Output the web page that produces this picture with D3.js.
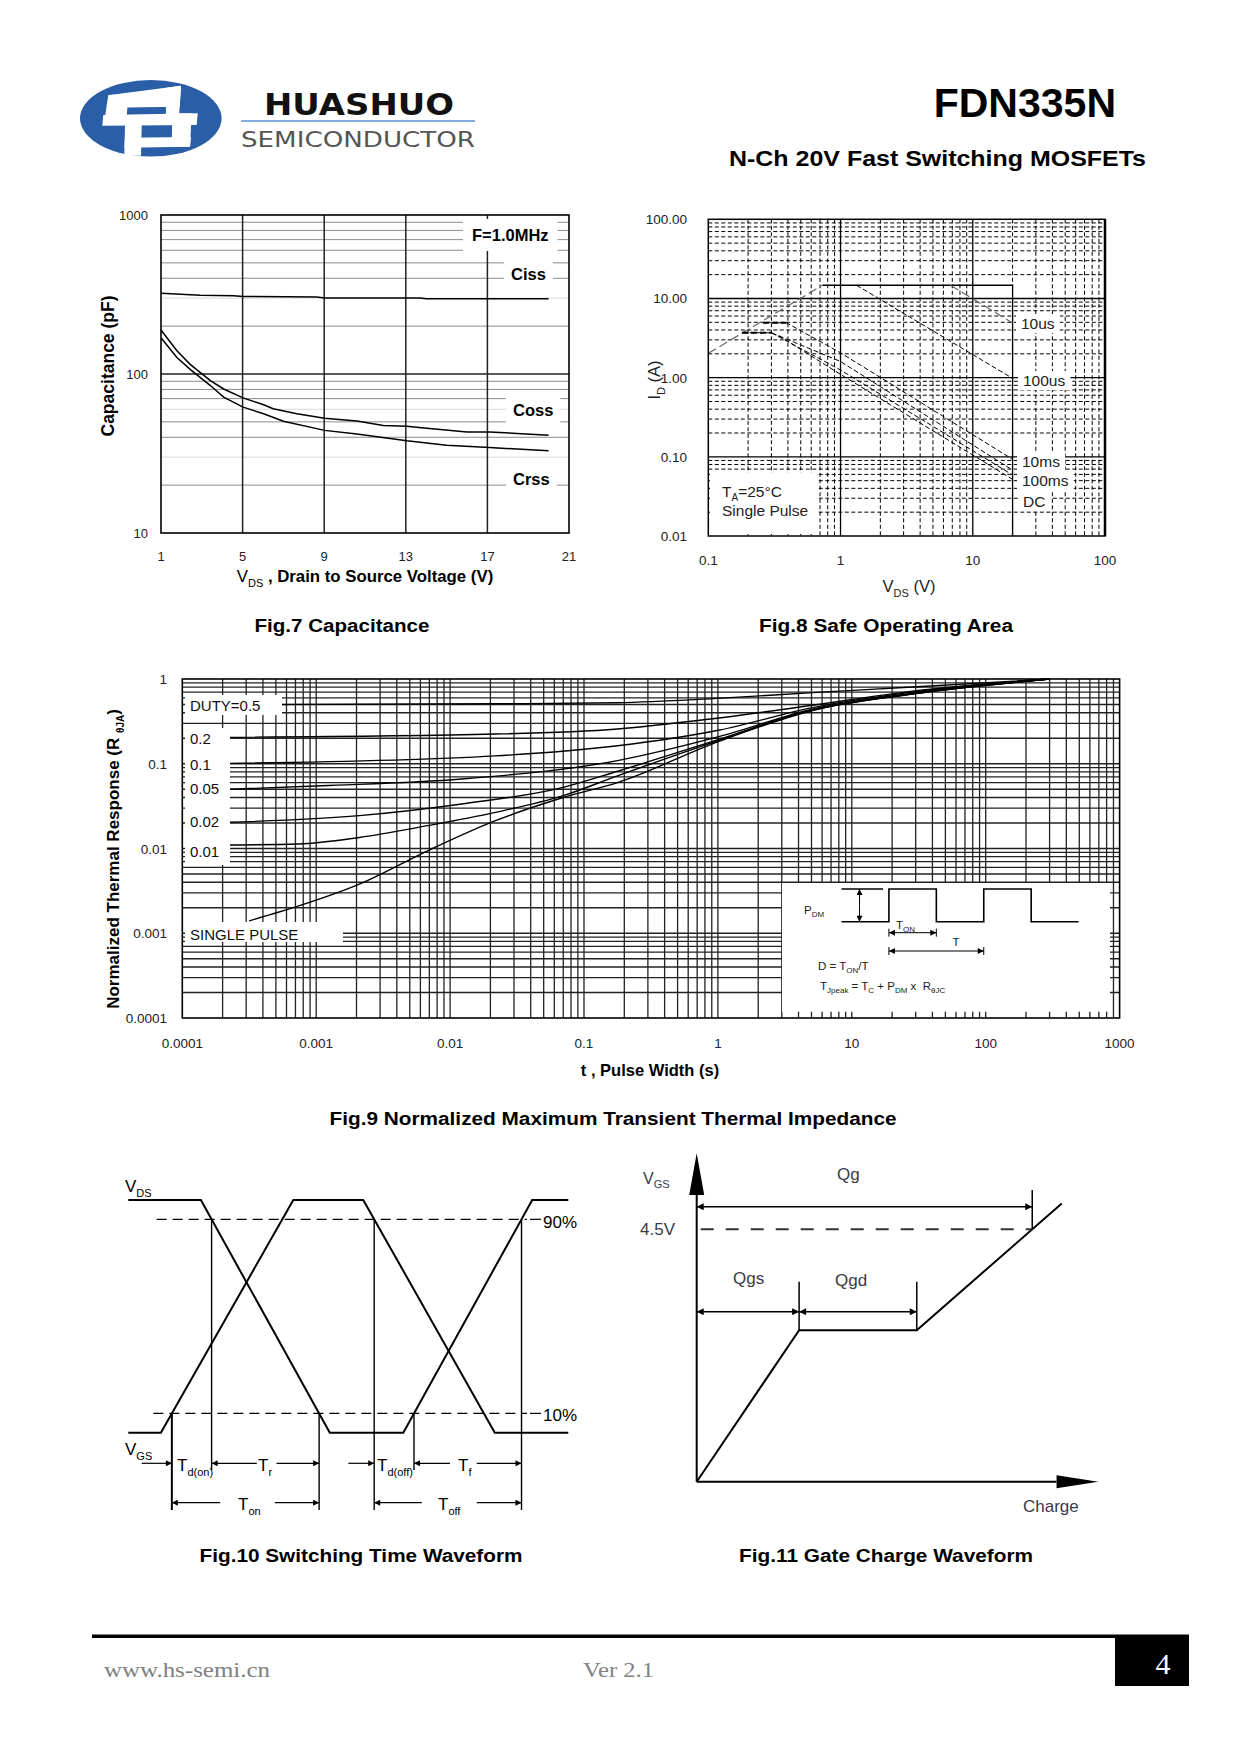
<!DOCTYPE html>
<html><head><meta charset="utf-8">
<script src="https://cdn.jsdelivr.net/npm/d3@7"></script>
<style>body{margin:0;background:#fff}</style>
</head><body>
<script>
// ================= DATA =================
// Fig.7 Capacitance
const cissV=[1,2.93,4.56,5.02,8.64,9.02,13.7,14,20];
const cissC=[322,313,310,307,305,301,301,297,297];
const cossV=[1,1.78,2.43,3.42,4.07,5.02,6.03,6.5,7.66,9.02,10.6,11.9,13.05,13.9,16,17.1,20];
const cossC=[189,140,115,90.9,80.5,70.8,64,60.4,56.2,52.6,50.6,47.5,46.9,45.8,43.2,43.2,41.2];
const crssV=[1,1.78,2.43,3.42,4.07,5.02,6.03,7,9.02,10.6,13.05,15,17.1,20];
const crssC=[169,127,107,84.6,71.5,61.9,56.2,50.4,44.2,42,38,35.6,34.5,32.9];
const capXTicks=[1,5,9,13,17,21];
const capYTicks=[10,100,1000];
const capLightGrid=[30,60,300];
const capLabels=["Ciss","Coss","Crss"];

// Fig.8 SOA
const soaXTicks=[0.1,1,10,100], soaXLabels=["0.1","1","10","100"];
const soaYTicks=[0.01,0.1,1,10,100], soaYLabels=["0.01","0.10","1.00","10.00","100.00"];
const rdsV=[0.1,0.73], rdsI=[2.03,14.7];
const limV=[0.73,20,20], limI=[14.7,14.7,0.01];
const us10V=[6.8,20], us10I=[14.7,4.9];
const us100V=[1.32,20], us100I=[14.7,0.98];
const soaAV=[0.26,0.39,1,20], soaAI=[4.93,4.93,2.06,0.093];
const soaBV=[0.18,0.3,1,20], soaBI=[3.69,3.69,1.6,0.068];
const soaCV=[0.3,1,20], soaCI=[3.69,1.25,0.059];
const soaDV=[0.34,1,20], soaDI=[3.4,1.1,0.052];
const soaLabels=["10us","100us","10ms","100ms","DC"];

// Fig.9 Transient thermal impedance
const thXTicks=[1e-4,1e-3,0.01,0.1,1,10,100,1000], thXLabels=["0.0001","0.001","0.01","0.1","1","10","100","1000"];
const thYTicks=[1e-4,1e-3,0.01,0.1,1], thYLabels=["0.0001","0.001","0.01","0.1","1"];
const d50T=[2.27e-4,0.0218,0.178,0.92,5.1,28.5,299], d50R=[0.497,0.51,0.525,0.586,0.69,0.805,1.0];
const d20T=[2.27e-4,0.0219,0.178,0.92,5.1,28.5,299], d20R=[0.205,0.224,0.257,0.34,0.49,0.72,1.0];
const d10T=[2.27e-4,0.0218,0.178,1.03,5.1,28.5,299], d10R=[0.101,0.124,0.163,0.25,0.46,0.70,1.0];
const d05T=[2.27e-4,1.1e-3,0.0122,0.178,1.03,5.1,28.5,299], d05R=[0.050,0.055,0.066,0.109,0.21,0.44,0.68,1.0];
const d02T=[2.27e-4,2.1e-3,0.0122,0.07,0.178,1.03,5.1,28.5,299], d02R=[0.0204,0.0244,0.0335,0.0527,0.0815,0.195,0.435,0.67,1.0];
const d01T=[2.27e-4,7.4e-4,2.1e-3,6.8e-3,0.0218,0.07,0.178,1.03,5.1,28.5,299], d01R=[0.011,0.0113,0.0135,0.0186,0.0267,0.042,0.072,0.19,0.43,0.67,1.0];
const spT=[3.15e-4,7.4e-4,2.1e-3,6.8e-3,0.0218,0.07,0.178,1.03,5.1,28.5,299], spR=[0.0014,0.0021,0.0038,0.0094,0.0213,0.040,0.060,0.185,0.425,0.665,1.0];
const dutyLabels=["DUTY=0.5","0.2","0.1","0.05","0.02","0.01","SINGLE PULSE"];
const pulseX=[0,20,20,40,40,60,60,80,80,100], pulseL=[0,0,1,1,0,0,1,1,0,0];

// Fig.10 Switching waveform (time units 0..100, level 0..1)
const vdsT=[0,16.5,45.8,62.5,91.8,100], vdsL=[1,1,0,0,1,1];
const vgsT=[0,7.4,37.5,53.4,83.3,100], vgsL=[0,0,1,1,0,0];
const swLevels=[0.083,0.917];
const swLevelLabels=["10%","90%"];

// Fig.11 Gate charge (charge units 0..100, volts)
const qgQ=[0,25.5,54.8,90.9], qgV=[0,2.7,2.7,4.96];
const qgLevel=4.5;

// ================= SETUP =================
const FONT='"Liberation Sans", Arial, Helvetica, sans-serif';
const svg=d3.select("body").append("svg").attr("width",1240).attr("height",1754).style("display","block");
svg.append("rect").attr("width",1240).attr("height",1754).attr("fill","#fff");
const defs=svg.append("defs");
function mk(id,w,h){defs.append("marker").attr("id",id).attr("viewBox","0 0 10 10").attr("refX",10).attr("refY",5)
  .attr("markerWidth",w).attr("markerHeight",h).attr("markerUnits","userSpaceOnUse").attr("orient","auto-start-reverse")
  .append("path").attr("d","M0,0L10,5L0,10z").attr("fill","#000");}
mk("ah",8,6); mk("ah2",9,7);
const near=(a,b)=>Math.abs(a-b)<=1e-7*Math.max(Math.abs(a),Math.abs(b));

function txt(g,x,y,s,o={}){
  const t=g.append("text").attr("x",x).attr("y",y).text(s).attr("font-family",o.family||FONT)
    .attr("font-size",o.size||14).attr("fill",o.fill||"#000").style("white-space","pre");
  if(o.weight)t.attr("font-weight",o.weight);
  if(o.anchor)t.attr("text-anchor",o.anchor);
  if(o.len)t.attr("textLength",o.len).attr("lengthAdjust","spacingAndGlyphs");
  if(o.rotate!==undefined)t.attr("transform",`rotate(${o.rotate},${x},${y})`);
  return t;
}
function rich(g,x,y,parts,o={}){
  const size=o.size||14, sub=o.sub||size*0.65, off=size*0.28;
  const t=g.append("text").attr("x",x).attr("y",y).attr("font-family",FONT).attr("font-size",size)
    .attr("fill",o.fill||"#000").style("white-space","pre");
  if(o.weight)t.attr("font-weight",o.weight);
  if(o.anchor)t.attr("text-anchor",o.anchor);
  if(o.rotate!==undefined)t.attr("transform",`rotate(${o.rotate},${x},${y})`);
  let prev=false;
  parts.forEach(p=>{
    const q=typeof p==="string"?{t:p}:p;
    const ts=t.append("tspan").text(q.t);
    if(q.w)ts.attr("font-weight",q.w);
    if(q.sub){ts.attr("font-size",sub); if(!prev)ts.attr("dy",off);}
    else if(prev)ts.attr("dy",-off);
    prev=!!q.sub;
  });
  return t;
}
function boxBehind(g,t,px,py){
  const b=t.node().getBBox();
  g.insert("rect",()=>t.node()).attr("x",b.x-px).attr("y",b.y-py).attr("width",b.width+2*px).attr("height",b.height+2*py).attr("fill","#fff");
}
function hline(g,x1,x2,y,st,w,dash){const l=g.append("line").attr("x1",x1).attr("x2",x2).attr("y1",y).attr("y2",y).attr("stroke",st).attr("stroke-width",w);if(dash)l.attr("stroke-dasharray",dash);return l;}
function vline(g,x,y1,y2,st,w,dash){const l=g.append("line").attr("x1",x).attr("x2",x).attr("y1",y1).attr("y2",y2).attr("stroke",st).attr("stroke-width",w);if(dash)l.attr("stroke-dasharray",dash);return l;}
const zip=(a,b)=>a.map((v,i)=>[v,b[i]]);

// ================= HEADER =================
const hd=svg.append("g");
hd.append("ellipse").attr("cx",150.8).attr("cy",118.3).attr("rx",70.8).attr("ry",38.3).attr("fill","#2a5ea6");
const glyph=[
 [[110,95],[181,85.7],[179.7,106.7],[108.3,107.7]],
 [[108.3,95],[128.3,94.3],[126.7,116.7],[105,116.7]],
 [[166.7,87.7],[181,85.7],[179,116.7],[165.7,116.7]],
 [[103.3,115],[197.7,113.3],[196.7,125],[102.3,125.7]],
 [[172.3,113.3],[191.7,113.3],[190,146.7],[171.7,146.7]],
 [[125,137.7],[191,137],[190,146.7],[124.3,147.7]],
 [[125,125],[141.7,125],[141,155.7],[124.3,155.7]]];
glyph.forEach(p=>hd.append("polygon").attr("points",p.map(d=>d.join(",")).join(" ")).attr("fill","#fff"));
txt(hd,264,115,"HUASHUO",{family:'"DejaVu Sans", sans-serif',weight:"bold",size:31,len:190,fill:"#111"});
hline(hd,241,475,121,"#5b8fd0",1.5);
txt(hd,241,147,"SEMICONDUCTOR",{family:'"DejaVu Sans", sans-serif',size:22,len:234,fill:"#555"});
txt(hd,1116,117,"FDN335N",{weight:"bold",size:41,anchor:"end"});
txt(hd,729,166,"N-Ch 20V Fast Switching MOSFETs",{weight:"bold",size:22,len:417});

// ================= FIG 7 =================
const g7=svg.append("g");
const x7=d3.scaleLinear().domain([1,21]).range([161,569]);
const y7=d3.scaleLog().domain([10,1000]).range([533,215]);
y7.ticks().forEach(v=>{
  if(near(v,10)||near(v,1000))return;
  const major=near(v,100), light=capLightGrid.some(l=>near(v,l));
  hline(g7,x7(1),x7(21),y7(v),major?"#222":light?"#d9d9d9":"#8c8c8c",major?1.4:1);
});
capXTicks.slice(1,-1).forEach(v=>vline(g7,x7(v),y7(1000),y7(10),"#222",1.5));
const l7=d3.line().x(d=>x7(d[0])).y(d=>y7(d[1]));
[[cissV,cissC],[cossV,cossC],[crssV,crssC]].forEach(s=>g7.append("path").attr("d",l7(zip(s[0],s[1]))).attr("fill","none").attr("stroke","#000").attr("stroke-width",1.5));
const fmhz=txt(g7,472,241,"F=1.0MHz",{weight:"bold",size:16.5});boxBehind(g7,fmhz,9,7);
[[511,280],[513,416],[513,485]].forEach((p,i)=>{const t=txt(g7,p[0],p[1],capLabels[i],{weight:"bold",size:16.5});boxBehind(g7,t,7,5);});
g7.append("rect").attr("x",x7(1)).attr("y",y7(1000)).attr("width",x7(21)-x7(1)).attr("height",y7(10)-y7(1000)).attr("fill","none").attr("stroke","#000").attr("stroke-width",1.6);
capYTicks.forEach(v=>txt(g7,148,y7(v)+4.5,String(v),{size:13,anchor:"end",fill:"#222"}));
capXTicks.forEach(v=>txt(g7,x7(v),561,String(v),{size:13,anchor:"middle",fill:"#222"}));
rich(g7,365,582,["V",{t:"DS",sub:1},{t:" , Drain to Source Voltage (V)",w:"bold"}],{size:16.8,sub:11,anchor:"middle"});
txt(g7,114,366,"Capacitance (pF)",{weight:"bold",size:17.5,anchor:"middle",rotate:-90});
txt(g7,342,632,"Fig.7 Capacitance",{weight:"bold",size:18,anchor:"middle",len:175});

// ================= FIG 8 =================
const g8=svg.append("g");
const x8=d3.scaleLog().domain([0.1,100]).range([708.3,1105]);
const y8=d3.scaleLog().domain([0.01,100]).range([536,219.3]);
const isDec=v=>Math.abs(Math.log10(v)-Math.round(Math.log10(v)))<1e-9;
x8.ticks().forEach(v=>{if(near(v,0.1)||near(v,100))return; if(isDec(v))vline(g8,x8(v),y8(100),y8(0.01),"#000",1.3); else vline(g8,x8(v),y8(100),y8(0.01),"#000",1,"4,2.5");});
y8.ticks().forEach(v=>{if(near(v,0.01)||near(v,100))return; if(isDec(v))hline(g8,x8(0.1),x8(100),y8(v),"#000",1.3); else hline(g8,x8(0.1),x8(100),y8(v),"#000",1,"4,2.5");});
const l8=d3.line().x(d=>x8(d[0])).y(d=>y8(d[1]));
g8.append("path").attr("d",l8(zip(limV,limI))).attr("fill","none").attr("stroke","#000").attr("stroke-width",1.3);
g8.append("path").attr("d",l8(zip(rdsV,rdsI))).attr("fill","none").attr("stroke","#666").attr("stroke-width",1.2).attr("stroke-dasharray","9,4");
g8.append("path").attr("d",l8(zip(us10V,us10I))).attr("fill","none").attr("stroke","#666").attr("stroke-width",1.2).attr("stroke-dasharray","9,4");
[[us100V,us100I],[soaAV,soaAI],[soaBV,soaBI],[soaCV,soaCI],[soaDV,soaDI]].forEach(s=>g8.append("path").attr("d",l8(zip(s[0],s[1]))).attr("fill","none").attr("stroke","#000").attr("stroke-width",1).attr("stroke-dasharray","5,2.5"));
g8.append("path").attr("d",l8([[soaAV[0],soaAI[0]],[soaAV[1],soaAI[1]]])).attr("stroke","#000").attr("stroke-width",2).attr("stroke-dasharray","6,3");
g8.append("path").attr("d",l8([[soaBV[0],soaBI[0]],[soaBV[1],soaBI[1]]])).attr("stroke","#000").attr("stroke-width",2).attr("stroke-dasharray","6,3");
[[1021,329],[1023,386],[1022,467],[1022,486],[1023,507]].forEach((p,i)=>{const t=txt(g8,p[0],p[1],soaLabels[i],{size:15.5,fill:"#222"});boxBehind(g8,t,5,1);});
g8.append("rect").attr("x",710).attr("y",473).attr("width",108).attr("height",61).attr("fill","#fff");
rich(g8,722,497,["T",{t:"A",sub:1},"=25°C"],{size:15.5,sub:10,fill:"#222"});
txt(g8,722,516,"Single Pulse",{size:15.5,fill:"#222"});
g8.append("rect").attr("x",x8(0.1)).attr("y",y8(100)).attr("width",x8(100)-x8(0.1)).attr("height",y8(0.01)-y8(100)).attr("fill","none").attr("stroke","#000").attr("stroke-width",1.5);
vline(g8,x8(100),y8(100),y8(0.01),"#000",2.5);
soaYTicks.forEach((v,i)=>txt(g8,687,y8(v)+5,soaYLabels[i],{size:13.5,anchor:"end",fill:"#222"}));
soaXTicks.forEach((v,i)=>txt(g8,x8(v),565,soaXLabels[i],{size:13.5,anchor:"middle",fill:"#222"}));
rich(g8,909,592,["V",{t:"DS",sub:1}," (V)"],{size:16.5,sub:11,anchor:"middle",fill:"#222"});
rich(g8,660,380,["I",{t:"D",sub:1}," (A)"],{size:16.5,sub:11,anchor:"middle",rotate:-90,fill:"#222"});
txt(g8,886,632,"Fig.8 Safe Operating Area",{weight:"bold",size:18,anchor:"middle",len:254});

// ================= FIG 9 =================
const g9=svg.append("g");
const x9=d3.scaleLog().domain([1e-4,1000]).range([182.3,1119.6]);
const y9=d3.scaleLog().domain([1e-4,1]).range([1018,679]);
x9.ticks().forEach(v=>{if(near(v,1e-4)||near(v,1000))return; vline(g9,x9(v),y9(1),y9(1e-4),"#222",1.3);});
y9.ticks().forEach(v=>{if(near(v,1e-4)||near(v,1))return; hline(g9,x9(1e-4),x9(1000),y9(v),"#222",1.3);});
const l9=d3.line().x(d=>x9(d[0])).y(d=>y9(d[1])).curve(d3.curveMonotoneX);
[[d50T,d50R],[d20T,d20R],[d10T,d10R],[d05T,d05R],[d02T,d02R],[d01T,d01R],[spT,spR]].forEach(s=>
  g9.append("path").attr("d",l9(zip(s[0],s[1]))).attr("fill","none").attr("stroke","#000").attr("stroke-width",1.4));
g9.append("rect").attr("x",185).attr("y",695).attr("width",97).attr("height",20).attr("fill","#fff");
g9.append("rect").attr("x",185).attr("y",728).attr("width",45).attr("height",137).attr("fill","#fff");
g9.append("rect").attr("x",185).attr("y",922).attr("width",158).attr("height",20).attr("fill","#fff");
[711,743.5,770,793.5,827,857,939.5].forEach((y,i)=>txt(g9,190,y,dutyLabels[i],{size:15,fill:"#111"}));
// inset
g9.append("rect").attr("x",782).attr("y",883).attr("width",328).attr("height",128.7).attr("fill","#fff");
const xi=d3.scaleLinear().domain([0,100]).range([841.5,1078.6]);
const yi=d3.scaleLinear().domain([0,1]).range([921.7,889]);
g9.append("path").attr("d",d3.line().x(d=>xi(d[0])).y(d=>yi(d[1]))(zip(pulseX,pulseL))).attr("fill","none").attr("stroke","#000").attr("stroke-width",1.6);
hline(g9,xi(0),xi(17.5),yi(1),"#000",1.6);
g9.append("line").attr("x1",xi(7.6)).attr("x2",xi(7.6)).attr("y1",yi(0.5)).attr("y2",yi(1)).attr("stroke","#000").attr("stroke-width",1).attr("marker-end","url(#ah)");
g9.append("line").attr("x1",xi(7.6)).attr("x2",xi(7.6)).attr("y1",yi(0.5)).attr("y2",yi(0)).attr("stroke","#000").attr("stroke-width",1).attr("marker-end","url(#ah)");
[[20,40,932.7],[20,60,951]].forEach(a=>{
  g9.append("line").attr("x1",xi(a[0])).attr("x2",xi(a[1])).attr("y1",a[2]).attr("y2",a[2]).attr("stroke","#000").attr("stroke-width",1).attr("marker-start","url(#ah)").attr("marker-end","url(#ah)");
  vline(g9,xi(a[0]),a[2]-4,a[2]+4,"#000",1);vline(g9,xi(a[1]),a[2]-4,a[2]+4,"#000",1);
});
rich(g9,804,914,["P",{t:"DM",sub:1}],{size:11.5,sub:8,fill:"#222"});
rich(g9,896,929,["T",{t:"ON",sub:1}],{size:11.5,sub:8,fill:"#222"});
txt(g9,956,946,"T",{size:11.5,fill:"#222",anchor:"middle"});
rich(g9,818,970,["D = T",{t:"ON",sub:1},"/T"],{size:11.5,sub:8,fill:"#222"});
rich(g9,820,990,["T",{t:"Jpeak",sub:1}," = T",{t:"C",sub:1}," + P",{t:"DM",sub:1}," x  R",{t:"θJC",sub:1}],{size:11.5,sub:8,fill:"#222"});
g9.append("rect").attr("x",x9(1e-4)).attr("y",y9(1)).attr("width",x9(1000)-x9(1e-4)).attr("height",y9(1e-4)-y9(1)).attr("fill","none").attr("stroke","#000").attr("stroke-width",1.6);
thYTicks.forEach((v,i)=>txt(g9,167,y9(v)+5,thYLabels[i],{size:13.5,anchor:"end",fill:"#222"}));
thXTicks.forEach((v,i)=>txt(g9,x9(v),1048,thXLabels[i],{size:13.5,anchor:"middle",fill:"#222"}));
txt(g9,650,1076,"t , Pulse Width (s)",{weight:"bold",size:16.5,anchor:"middle"});
rich(g9,119,859,["Normalized Thermal Response (R ",{t:"θJA",sub:1},")"],{size:17,sub:10,weight:"bold",anchor:"middle",rotate:-90});
txt(g9,613,1125,"Fig.9 Normalized Maximum Transient Thermal Impedance",{weight:"bold",size:18,anchor:"middle",len:567});

// ================= FIG 10 =================
const g10=svg.append("g");
const x10=d3.scaleLinear().domain([0,100]).range([128.3,568.3]);
const y10=d3.scaleLinear().domain([0,1]).range([1432.7,1200]);
const cross=(ts,ls,i,lev)=>ts[i]+(lev-ls[i])/(ls[i+1]-ls[i])*(ts[i+1]-ts[i]);
const [lo,hi]=swLevels;
const tdOnS=cross(vgsT,vgsL,1,lo), tdOnE=cross(vdsT,vdsL,1,hi), trE=cross(vdsT,vdsL,1,lo);
const tdOffS=cross(vgsT,vgsL,3,hi), tdOffE=cross(vdsT,vdsL,3,lo), tfE=cross(vdsT,vdsL,3,hi);
hline(g10,156.7,527,y10(hi),"#000",1.2,"10,6"); hline(g10,530,541,y10(hi),"#000",1.2);
hline(g10,153.3,527,y10(lo),"#000",1.2,"10,6"); hline(g10,530,541,y10(lo),"#000",1.2);
const l10=d3.line().x(d=>x10(d[0])).y(d=>y10(d[1]));
g10.append("path").attr("d",l10(zip(vdsT,vdsL))).attr("fill","none").attr("stroke","#000").attr("stroke-width",2);
g10.append("path").attr("d",l10(zip(vgsT,vgsL))).attr("fill","none").attr("stroke","#000").attr("stroke-width",2);
[[tdOnS,lo,1510,2],[tdOnE,hi,1470,1.4],[trE,lo,1510,1.4],[tdOffS,hi,1510,1.4],[tdOffE,lo,1470,1.4],[tfE,hi,1510,1.4]].forEach(v=>vline(g10,x10(v[0]),y10(v[1]),v[2],"#000",v[3]));
const arr=(g,x1,x2,y,mid)=>g.append("line").attr("x1",x1).attr("x2",x2).attr("y1",y).attr("y2",y).attr("stroke","#000").attr("stroke-width",1.2).attr("marker-end",`url(#${mid||"ah"})`);
const row1Tails=[3.05,29.2,33.7,50,73.1,79.2], row1Heads=[tdOnS,tdOnE,trE,tdOffS,tdOffE,tfE];
row1Tails.forEach((t,i)=>arr(g10,x10(t),x10(row1Heads[i]),1463.3));
const row2Tails=[20.9,33.3,66.7,79.2], row2Heads=[tdOnS,trE,tdOffS,tfE];
row2Tails.forEach((t,i)=>arr(g10,x10(t),x10(row2Heads[i]),1502.7));
rich(g10,177,1471,["T",{t:"d(on)",sub:1}],{size:17,sub:11});
rich(g10,258,1471,["T",{t:"r",sub:1}],{size:17,sub:11});
rich(g10,377,1471,["T",{t:"d(off)",sub:1}],{size:17,sub:11});
rich(g10,458,1471,["T",{t:"f",sub:1}],{size:17,sub:11});
rich(g10,238,1510,["T",{t:"on",sub:1}],{size:17,sub:11});
rich(g10,438,1510,["T",{t:"off",sub:1}],{size:17,sub:11});
rich(g10,125,1192,["V",{t:"DS",sub:1}],{size:17,sub:11});
rich(g10,125,1455,["V",{t:"GS",sub:1}],{size:17,sub:11});
txt(g10,543,1228,swLevelLabels[1],{size:17});
txt(g10,543,1421,swLevelLabels[0],{size:17});
txt(g10,361,1562,"Fig.10 Switching Time Waveform",{weight:"bold",size:18,anchor:"middle",len:323});

// ================= FIG 11 =================
const g11=svg.append("g");
const x11=d3.scaleLinear().domain([0,100]).range([696.7,1098.3]);
const y11=d3.scaleLinear().domain([0,6]).range([1481.7,1145.1]);
vline(g11,x11(0),y11(0),y11(5.11),"#000",2);
g11.append("path").attr("d",`M${x11(0)},${y11(5.854)}L${x11(0)-7.5},${y11(5.11)}L${x11(0)+7.5},${y11(5.11)}Z`).attr("fill","#000");
hline(g11,x11(0),x11(89.6),y11(0),"#000",2);
g11.append("path").attr("d",`M${x11(100)},${y11(0)}L${x11(89.6)},${y11(0)-6.5}L${x11(89.6)},${y11(0)+6.5}Z`).attr("fill","#000");
const l11=d3.line().x(d=>x11(d[0])).y(d=>y11(d[1]));
g11.append("path").attr("d",l11(zip(qgQ,qgV))).attr("fill","none").attr("stroke","#000").attr("stroke-width",2);
const qgAt=qgQ[2]+(qgLevel-qgV[2])/(qgV[3]-qgV[2])*(qgQ[3]-qgQ[2]);
hline(g11,x11(0)+4,x11(qgAt),y11(qgLevel),"#333",2,"13,12");
vline(g11,x11(qgAt),y11(5.2),y11(qgLevel),"#000",1.5);
vline(g11,x11(qgQ[1]),y11(3.565),y11(qgV[1]),"#000",1.5);
vline(g11,x11(qgQ[2]),y11(3.565),y11(qgV[2]),"#000",1.5);
const darr=(a,b,yv)=>g11.append("line").attr("x1",x11(a)).attr("x2",x11(b)).attr("y1",y11(yv)).attr("y2",y11(yv)).attr("stroke","#000").attr("stroke-width",1.5).attr("marker-start","url(#ah2)").attr("marker-end","url(#ah2)");
darr(0,qgAt,4.9); darr(0,qgQ[1],3.03); darr(qgQ[1],qgQ[2],3.03);
const c11="#3a3a48";
rich(g11,643,1184,["V",{t:"GS",sub:1}],{size:16,sub:11,fill:c11});
txt(g11,640,1235,"4.5V",{size:17,fill:c11});
txt(g11,837,1180,"Qg",{size:17,fill:c11});
txt(g11,733,1284,"Qgs",{size:17,fill:c11});
txt(g11,835,1286,"Qgd",{size:17,fill:c11});
txt(g11,1023,1512,"Charge",{size:17,fill:c11});
txt(g11,886,1562,"Fig.11 Gate Charge Waveform",{weight:"bold",size:18,anchor:"middle",len:294});

// ================= FOOTER =================
const ft=svg.append("g");
ft.append("rect").attr("x",92).attr("y",1634.5).attr("width",1023).attr("height",3.5).attr("fill","#000");
ft.append("rect").attr("x",1115).attr("y",1634.5).attr("width",74).attr("height",51.5).attr("fill","#000");
txt(ft,1163,1674,"4",{family:'"Liberation Serif", "DejaVu Serif", serif',size:30,fill:"#fff",anchor:"middle"});
txt(ft,104,1677,"www.hs-semi.cn",{family:'"Liberation Serif", serif',size:22,fill:"#808080",len:166});
txt(ft,583,1677,"Ver 2.1",{family:'"Liberation Serif", serif',size:22,fill:"#808080",len:71});
</script>
</body></html>
